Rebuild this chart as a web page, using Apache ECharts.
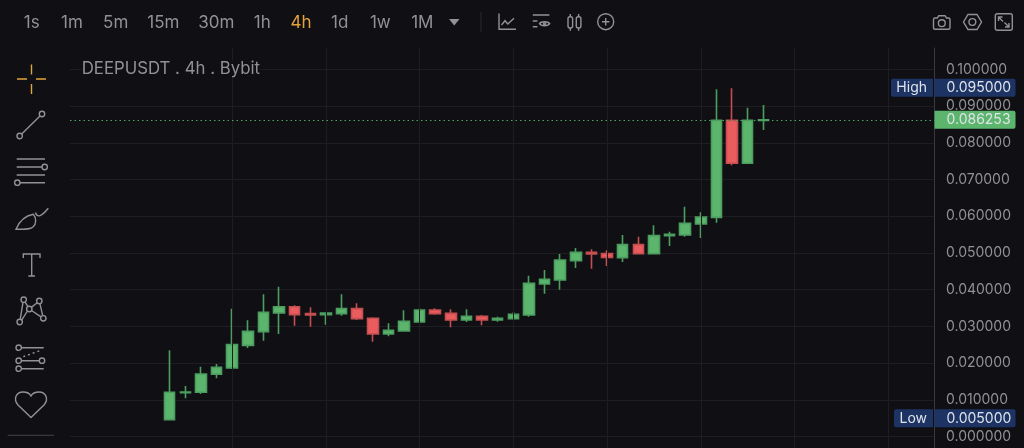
<!DOCTYPE html>
<html>
<head>
<meta charset="utf-8">
<style>
html, body { margin: 0; padding: 0; background: #101014; }
#chart { width: 1024px; height: 448px; }
</style>
<script src="https://cdn.jsdelivr.net/npm/echarts@6/dist/echarts.min.js"></script>
</head>
<body>
<div id="chart"></div>
<script>
// candles, oldest first
var opens  = [0.00464,0.01200,0.01208,0.01698,0.01870,0.02487,0.02859,0.03367,0.03539,0.03349,0.03322,0.03349,0.03486,0.03222,0.02796,0.02877,0.03122,0.03449,0.03358,0.03177,0.03276,0.03177,0.03213,0.03313,0.04157,0.04265,0.04791,0.05018,0.04982,0.04873,0.05227,0.04982,0.05472,0.05489,0.05789,0.05971,0.08611,0.07441,0.08605];
var closes = [0.01208,0.01215,0.01707,0.01888,0.02505,0.02868,0.03385,0.03539,0.03322,0.03313,0.03367,0.03485,0.03213,0.02796,0.02895,0.03140,0.03449,0.03349,0.03177,0.03276,0.03177,0.03222,0.03330,0.04174,0.04283,0.04809,0.05018,0.04973,0.04882,0.05227,0.04982,0.05472,0.05508,0.05807,0.05979,0.08611,0.07441,0.08611,0.08625];
var lows   = [0.00464,0.01044,0.01162,0.01589,0.01843,0.02414,0.02614,0.02795,0.03022,0.02995,0.03049,0.03295,0.03177,0.02587,0.02732,0.02877,0.03122,0.03322,0.02977,0.03122,0.03032,0.03131,0.03177,0.03267,0.03894,0.04002,0.04592,0.04574,0.04646,0.04755,0.04982,0.04982,0.05190,0.05445,0.05408,0.05826,0.07386,0.07441,0.08350];
var highs  = [0.02352,0.01380,0.01907,0.01979,0.03485,0.03167,0.03875,0.04084,0.03576,0.03521,0.03385,0.03875,0.03630,0.03249,0.03086,0.03440,0.03494,0.03494,0.03467,0.03467,0.03313,0.03267,0.03394,0.04383,0.04537,0.04973,0.05136,0.05100,0.05072,0.05490,0.05445,0.05752,0.05581,0.06260,0.06107,0.09455,0.09482,0.08956,0.09028];
var timeLines = [4,10,16,22,28,34,40,46];
var lastPrice = 0.086253;
var highPrice = 0.095;
var lowPrice = 0.005;
var intervals = ['1s','1m','5m','15m','30m','1h','4h','1d','1w','1M'];
var intervalX = [31.7,72,115.7,163.3,216.3,262.3,301,339.7,380.3,422.3];
var title = 'DEEPUSDT . 4h . Bybit';

var FONT = 'Inter';
var GRAY = '#929296';
var ORANGE = '#e2a33c';
var GREEN = '#5cb56d';
var RED = '#ea5c5d';
var BLUE = '#1c3364';
var GRID = '#1e1e22';

// x axis runs in candle numbers so the spacing is 15.62px from the first candle at 169.7
var xMin = (70 - 169.7) / 15.62;
var xMax = (934.5 - 169.7) / 15.62;

var candles = [];
for (var i = 0; i < opens.length; i++) {
    candles.push([i, opens[i], closes[i], lows[i], highs[i]]);
}

// graphic has no plain path type here, so every icon outline gets registered as its own shape
var shapeCount = 0;
function pathShape(d) {
    var name = 'icon' + (shapeCount++);
    echarts.graphic.registerShape(name, echarts.graphic.extendPath(d, {}));
    return name;
}
function line(d, color, width) {
    return {
        type: pathShape(d),
        silent: true,
        z: 10,
        style: { fill: null, stroke: color || GRAY, lineWidth: width || 1.4 }
    };
}
function ring(x, y, r) {
    return {
        type: 'circle',
        silent: true,
        z: 9,
        shape: { cx: x, cy: y, r: r || 2.7 },
        style: { fill: null, stroke: GRAY, lineWidth: 1.4 }
    };
}
function label(text, x, y, color, size, align, bg) {
    return {
        type: 'text',
        silent: true,
        z: 10,
        x: x,
        y: y,
        style: {
            text: text,
            fill: color || GRAY,
            font: (size || 17) + 'px ' + FONT,
            textAlign: align || 'center',
            textVerticalAlign: 'middle',
            backgroundColor: bg
        }
    };
}

var graphics = [];
intervals.forEach(function (name, k) {
    graphics.push(label(name, intervalX[k], 22.7, name === '4h' ? ORANGE : GRAY));
});
graphics.push(label(title, 81.7, 69.3, GRAY, 16.8, 'left', '#101014'));
graphics.push({
    type: pathShape('M449 19 L459.5 19 L454.2 25.5 Z'),
    silent: true,
    style: { fill: GRAY }
});
graphics.push(line('M481 12 L481 32', '#2a2a2e', 1));

// top toolbar
graphics.push(line('M499 13.5 L499 29.3 L516 29.3'));
graphics.push(line('M501.5 25 L505 20.7 L507.8 24 L514 18.3'));
graphics.push(line('M532.8 15 L549.4 15 M532.8 21 L537.4 21 M532.8 26.7 L537.4 26.7'));
graphics.push(line('M539.5 23.7 C541 21 548 21 549.7 23.7 C548 26.4 541 26.4 539.5 23.7 Z'));
graphics.push(ring(544.6, 23.7, 1));
graphics.push(line('M570.3 14 L570.3 16.7 M570.3 28 L570.3 30.7 M578.6 14 L578.6 16.7 M578.6 28 L578.6 30.7'));
graphics.push({ type: 'rect', silent: true, shape: { x: 568, y: 16.7, width: 4.6, height: 11.3, r: 2 }, style: { fill: null, stroke: GRAY, lineWidth: 1.4 } });
graphics.push({ type: 'rect', silent: true, shape: { x: 576.3, y: 16.7, width: 4.6, height: 11.3, r: 2 }, style: { fill: null, stroke: GRAY, lineWidth: 1.4 } });
graphics.push(ring(605.7, 21.7, 8));
graphics.push(line('M602 21.7 L609.4 21.7 M605.7 18 L605.7 25.4'));
graphics.push(line('M935 18 L937.3 18 L938.8 15.7 L945 15.7 L946.5 18 L948.5 18 Q950 18 950 19.5 L950 27.8 Q950 29.3 948.5 29.3 L935 29.3 Q933.5 29.3 933.5 27.8 L933.5 19.5 Q933.5 18 935 18 Z'));
graphics.push(ring(941.8, 23.2, 3.4));
graphics.push(line('M963.5 22 L968 14.5 L977 14.5 L981.5 22 L977 29.5 L968 29.5 Z'));
graphics.push(ring(972.4, 22, 3.4));
graphics.push({ type: 'rect', silent: true, shape: { x: 995.3, y: 13.7, width: 17, height: 16.6, r: 2 }, style: { fill: null, stroke: GRAY, lineWidth: 1.4 } });
graphics.push(line('M998.5 21 L998.5 17 L1002.5 17 M998.5 17 L1003 21.5 M1009 23 L1009 27 L1005 27 M1009 27 L1004.5 22.5'));

// left toolbar
graphics.push(line('M31.5 64.5 L31.5 74.5 M31.5 84 L31.5 94 M17 79 L27 79 M36 79 L46 79', ORANGE, 1.4));
graphics.push(line('M21.7 134 L40 116'));
graphics.push(ring(19.7, 136));
graphics.push(ring(42, 114));
graphics.push(line('M16.7 159 L45 159 M16.7 167 L42 167 M16.7 175 L45 175 M20 182.7 L45 182.7'));
graphics.push(ring(44.7, 167));
graphics.push(ring(17.3, 182.7));
graphics.push(line('M16 229.3 C19 222 24 216 33.3 214.3 C36.5 218 36.5 224 33 227 C30 229.5 26 229.3 16 229.3 Z'));
graphics.push(line('M35.5 212.5 C37 218.5 42 216 48.3 208.3'));
graphics.push(line('M23.3 258 L23.3 254 L40 254 L40 258 M31.7 254 L31.7 276 M28.3 276 L35 276'));
graphics.push(line('M23 302.3 L20.2 319.4 M25 302 L28 306.7 M37.2 302.7 L31.3 307.4 M39.9 303.6 L42.7 315.7 M31.5 310.5 L41 316.8 M21.7 320.2 L27.4 311'));
[[23.7,299.7],[39.3,301],[29.3,309],[43.3,318.3],[19.7,322]].forEach(function (p) {
    graphics.push(ring(p[0], p[1]));
});
graphics.push(line('M21.4 347.7 L43.7 347.7 M21.4 360.7 L39.3 360.7 M21.4 368.7 L43.7 368.7'));
graphics.push({ type: pathShape('M23.3 356.7 L41.7 350'), silent: true, style: { fill: null, stroke: GRAY, lineWidth: 1.4, lineDash: [2, 3] } });
graphics.push(ring(18.7, 347.7));
graphics.push(ring(18.7, 360.7));
graphics.push(ring(42, 360.7));
graphics.push(ring(18.7, 368.7));
graphics.push(line('M31 417.5 L18 405 C13 399 16 392 23 392 C27 392 30 394 31 396 C32 394 35 392 39 392 C46 392 49 399 44 405 Z'));
graphics.push(line('M7.7 435.3 L54 435.3', '#38383c', 1.2));

function priceTag(value, name, bg) {
    var tags = [{
        yAxis: value,
        label: {
            show: true,
            position: 'end',
            distance: 0,
            formatter: value.toFixed(6),
            color: '#dfe3ea',
            fontFamily: FONT,
            fontSize: 14,
            backgroundColor: bg,
            borderRadius: [0, 2, 2, 0],
            width: 69,
            height: 18,
            lineHeight: 18,
            padding: [0, 0, 0, 12],
            align: 'left'
        }
    }];
    if (name) {
        // sits left of the axis line, so it is anchored by its right edge
        tags.push({
            yAxis: value,
            label: {
                show: true,
                position: 'insideEnd',
                distance: 1.5,
                formatter: name,
                color: '#dfe3ea',
                fontFamily: FONT,
                fontSize: 14,
                backgroundColor: bg,
                borderRadius: [2, 0, 0, 2],
                width: name === 'High' ? 36 : 33,
                height: 18,
                lineHeight: 18,
                padding: [0, 6, 0, 0],
                align: 'right'
            }
        });
    }
    return tags;
}

var chart = echarts.init(document.getElementById('chart'), null, { renderer: 'canvas' });
chart.setOption({
    animation: false,
    backgroundColor: '#101014',
    graphic: graphics,
    grid: [
        { left: 70, right: 89.5, top: 69.3, bottom: 11.3 },
        { left: 70, right: 89.5, top: 48, bottom: 0 }
    ],
    xAxis: [
        { type: 'value', gridIndex: 0, min: xMin, max: xMax, show: false },
        { type: 'value', gridIndex: 1, min: xMin, max: xMax, show: false }
    ],
    yAxis: [
        {
            type: 'value',
            gridIndex: 0,
            position: 'right',
            min: 0,
            max: 0.1,
            interval: 0.01,
            axisLine: { show: false },
            axisTick: { show: false },
            axisLabel: {
                margin: 11.5,
                color: GRAY,
                fontFamily: FONT,
                fontSize: 14,
                formatter: function (v) { return v.toFixed(6); }
            },
            splitLine: { lineStyle: { color: GRID, width: 1 } }
        },
        {
            type: 'value',
            gridIndex: 1,
            position: 'right',
            min: 0,
            max: 1,
            axisLine: { show: true, onZero: false, lineStyle: { color: '#3a3a3e', width: 1 } },
            axisTick: { show: false },
            axisLabel: { show: false },
            splitLine: { show: false }
        }
    ],
    series: [
        {
            type: 'line',
            xAxisIndex: 1,
            yAxisIndex: 1,
            data: [],
            silent: true,
            z: 1,
            markLine: {
                silent: true,
                symbol: 'none',
                animation: false,
                label: { show: false },
                lineStyle: { color: GRID, width: 1, type: 'solid' },
                data: timeLines.map(function (t) { return { xAxis: t }; })
            }
        },
        {
            type: 'candlestick',
            xAxisIndex: 0,
            yAxisIndex: 0,
            barWidth: 11,
            encode: { x: 0, y: [1, 2, 3, 4] },
            data: candles,
            z: 3,
            itemStyle: {
                color: GREEN,
                color0: RED,
                borderColor: '#4c9e60',
                borderColor0: '#c44e50',
                borderWidth: 1.6
            },
            markLine: {
                silent: true,
                symbol: 'none',
                animation: false,
                precision: 6,
                lineStyle: { color: '#4da763', width: 1, type: [1.5, 3] },
                label: { show: false },
                data: [{ yAxis: lastPrice }]
            }
        },
        {
            type: 'line',
            xAxisIndex: 0,
            yAxisIndex: 0,
            data: [],
            silent: true,
            z: 5,
            markLine: {
                silent: true,
                symbol: 'none',
                animation: false,
                precision: 6,
                lineStyle: { width: 0, color: 'rgba(0,0,0,0)' },
                data: priceTag(highPrice, 'High', BLUE)
                    .concat(priceTag(lowPrice, 'Low', BLUE))
                    .concat(priceTag(lastPrice, null, GREEN))
            }
        }
    ]
});
</script>
</body>
</html>
